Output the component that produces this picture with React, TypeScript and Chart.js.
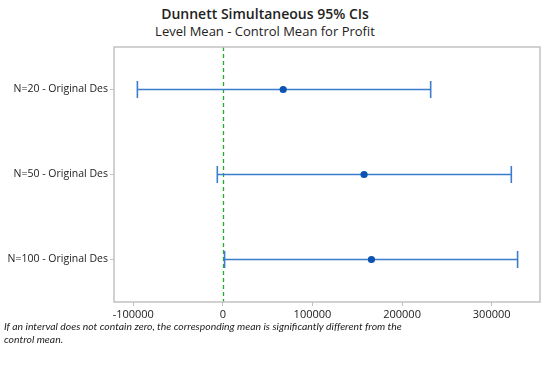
import React, { useEffect, useRef } from "react";
import { Chart, registerables } from "chart.js";

Chart.register(...registerables);

const categories = ["N=20 - Original Des", "N=50 - Original Des", "N=100 - Original Des"];
const means = [67300, 157600, 165800];
const lowers = [-95400, -6200, 1900];
const uppers = [231900, 321900, 328900];
const xTicks = [-100000, 0, 100000, 200000, 300000];
const titleText = "Dunnett Simultaneous 95% CIs";
const subtitleText = "Level Mean - Control Mean for Profit";
const footnoteLine1 = "If an interval does not contain zero, the corresponding mean is significantly different from the";
const footnoteLine2 = "control mean.";

const FONT = "'Open Sans', 'Noto Sans', sans-serif";
const FONT2 = "Lato, 'Open Sans', sans-serif";

const framePlugin = {
  id: "frameAndZero",
  afterDatasetsDraw(chart: any) {
    const { ctx, chartArea } = chart;
    ctx.save();
    ctx.strokeStyle = "#c2c2c2";
    ctx.lineWidth = 1.5;
    ctx.setLineDash([]);
    ctx.strokeRect(
      Math.round(chartArea.left),
      Math.round(chartArea.top),
      Math.round(chartArea.right - chartArea.left),
      Math.round(chartArea.bottom - chartArea.top)
    );
    ctx.restore();
  },
  beforeDatasetsDraw(chart: any) {
    const { ctx, chartArea, scales } = chart;
    ctx.save();
    const x0 = Math.round(scales.x.getPixelForValue(0)) + 0.5;
    ctx.strokeStyle = "#1fae1f";
    ctx.lineWidth = 1.3;
    ctx.setLineDash([4, 3]);
    ctx.beginPath();
    ctx.moveTo(x0, chartArea.top);
    ctx.lineTo(x0, chartArea.bottom);
    ctx.stroke();
    ctx.restore();
  },
};

export default function App() {
  const ref = useRef<HTMLCanvasElement>(null);
  useEffect(() => {
    if (!ref.current) return;
    const intervalSets = categories.map((c, i) => ({
      type: "line" as const,
      data: [
        { x: lowers[i], y: c },
        { x: uppers[i], y: c },
      ],
      borderColor: "#3a7cce",
      backgroundColor: "#3a7cce",
      borderWidth: 1.6,
      pointStyle: "line" as const,
      rotation: 90,
      pointRadius: 8.5,
      pointBorderWidth: 1.6,
      pointBorderColor: "#3a7cce",
      showLine: true,
      order: 2,
    }));
    const chart = new Chart(ref.current, {
      type: "scatter",
      data: {
        datasets: [
          ...intervalSets,
          {
            type: "scatter" as const,
            data: categories.map((c, i) => ({ x: means[i], y: c })),
            backgroundColor: "#0b52b2",
            borderColor: "#0b52b2",
            pointRadius: 3.6,
            pointBorderWidth: 0,
            order: 1,
          },
        ] as any,
      },
      options: {
        animation: false,
        responsive: false,
        events: [],
        layout: { padding: { left: 0, top: 47, right: 9, bottom: 0 } },
        plugins: {
          legend: { display: false },
          tooltip: { enabled: false },
          title: { display: false },
        },
        scales: {
          x: {
            type: "linear",
            min: -121500,
            max: 353800,
            afterBuildTicks: (s: any) => {
              s.ticks = xTicks.map((v) => ({ value: v }));
            },
            afterFit: (s: any) => {
              s.height = 63;
            },
            grid: { drawOnChartArea: false, drawTicks: true, tickLength: 4, color: "#c2c2c2" },
            border: { display: false },
            ticks: {
              color: "#222",
              font: { family: FONT, size: 11 },
              padding: 2,
              callback: (v: any) => String(v),
            },
          },
          y: {
            type: "category",
            labels: categories,
            offset: true,
            afterFit: (s: any) => {
              s.width = 114;
            },
            grid: { drawOnChartArea: false, drawTicks: true, tickLength: 4, color: "#c2c2c2", offset: false },
            border: { display: false },
            ticks: { color: "#222", font: { family: FONT, size: 10.5 }, padding: 2 },
          },
        },
      },
      plugins: [framePlugin],
    });
    return () => chart.destroy();
  }, []);

  return (
    <div style={{ position: "absolute", left: 0, top: 0, width: 550, height: 365, background: "#fff", fontFamily: FONT }}>
      <div style={{ position: "absolute", left: 0, width: 530, top: 5, textAlign: "center", fontSize: 14, fontWeight: 600, color: "#222", lineHeight: "18px" }}>
        {titleText}
      </div>
      <div style={{ position: "absolute", left: 0, width: 530, top: 22, textAlign: "center", fontSize: 13, color: "#222", lineHeight: "18px" }}>
        {subtitleText}
      </div>
      <canvas ref={ref} width={550} height={365} style={{ position: "absolute", left: 0, top: 0 }} />
      <div style={{ position: "absolute", left: 4, top: 320, width: 500, fontFamily: FONT2, fontSize: 10.4, fontStyle: "italic", color: "#222", lineHeight: "13px", whiteSpace: "nowrap" }}>
        <div>{footnoteLine1}</div>
        <div>{footnoteLine2}</div>
      </div>
    </div>
  );
}
